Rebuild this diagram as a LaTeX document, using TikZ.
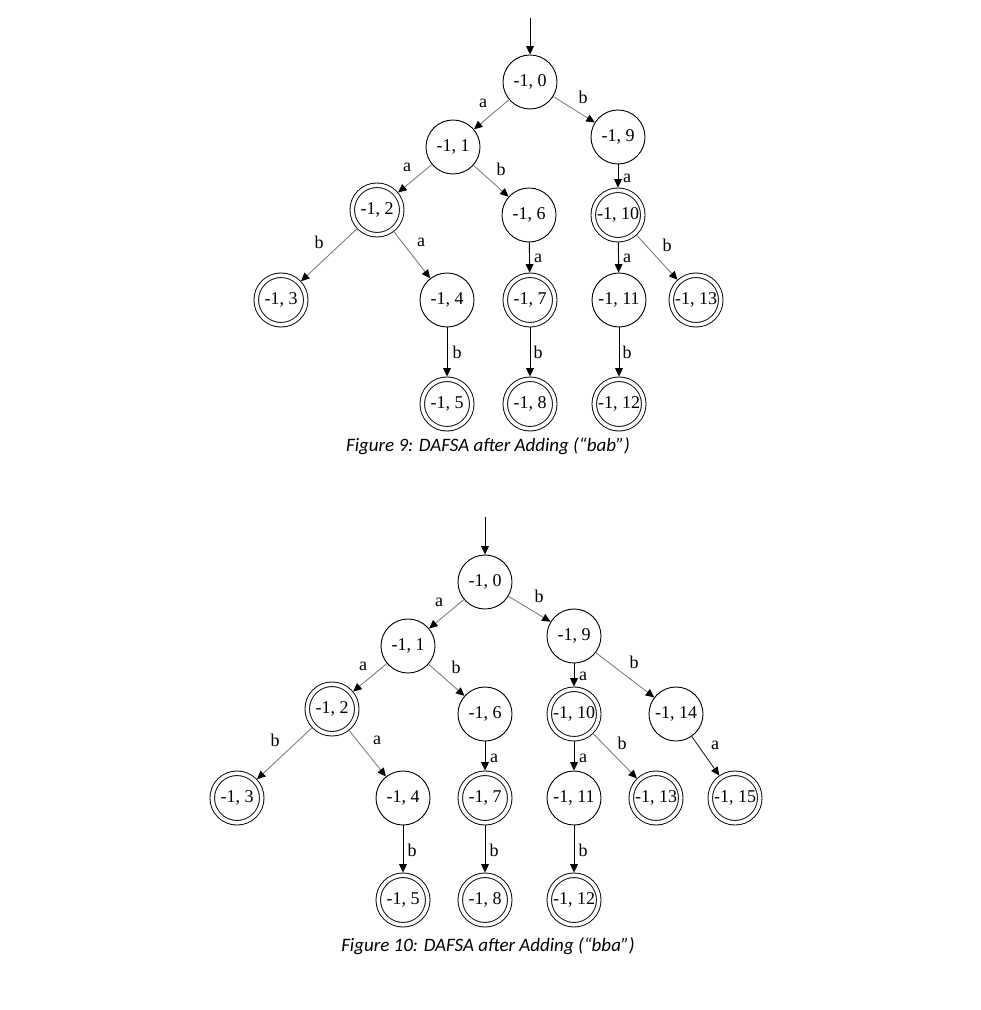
\documentclass[tikz,border=0pt]{standalone}
\usepackage{fontspec}
\setmainfont{Liberation Serif}
\newfontfamily\capfont{Carlito}
\usetikzlibrary{arrows.meta}
\tikzset{
  st/.style={circle,draw,line width=0.65pt,inner sep=0pt,minimum size=1.35cm},
  acc/.style={circle,draw,line width=0.65pt,inner sep=0pt,minimum size=1.2375cm,
    double,double distance=0.09cm,outer sep=0.067cm},
  tr/.style={draw=black!50,line width=0.65pt,-{Triangle[length=6pt,width=5.5pt,color=black]}},
  trv/.style={draw=black,line width=0.65pt,-{Triangle[length=6pt,width=5.5pt]}},
  lab/.style={inner sep=0pt}
}
\begin{document}
\begin{tikzpicture}[x=0.025cm,y=-0.025cm,font=\fontsize{12.8}{14}\selectfont]
\useasboundingbox (0,0) rectangle (980,1010);
% Figure 9
\coordinate (s9) at (530,18);
\node[st]  (a0)  at (530,82)  {-1, 0};
\node[st]  (a1)  at (453,147) {-1, 1};
\node[st]  (a9)  at (618,137) {-1, 9};
\node[acc] (a2)  at (377,210) {-1, 2};
\node[st]  (a6)  at (529,215) {-1, 6};
\node[acc] (a10) at (618,215) {-1, 10};
\node[acc] (a3)  at (281,300) {-1, 3};
\node[st]  (a4)  at (447,300) {-1, 4};
\node[acc] (a7)  at (530,300) {-1, 7};
\node[st]  (a11) at (619,300) {-1, 11};
\node[acc] (a13) at (696,300) {-1, 13};
\node[acc] (a5)  at (447,404) {-1, 5};
\node[acc] (a8)  at (530,404) {-1, 8};
\node[acc] (a12) at (619,404) {-1, 12};
\draw[trv] (s9) -- (a0);
\draw[tr] (a0) -- (a1);
\draw[tr] (a0) -- (a9);
\draw[tr] (a1) -- (a2);
\draw[tr] (a1) -- (a6);
\draw[trv] (a9) -- (a10);
\draw[tr] (a2) -- (a3);
\draw[tr] (a2) -- (a4);
\draw[trv] (a6) -- (a7);
\draw[trv] (a10) -- (a11);
\draw[tr] (a10) -- (a13);
\draw[trv] (a4) -- (a5);
\draw[trv] (a7) -- (a8);
\draw[trv] (a11) -- (a12);
\node[lab] (la1)  at (483,103) {a};
\node[lab] (la9)  at (583,97)  {b};
\node[lab] (la2)  at (407,167) {a};
\node[lab] (la6)  at (501,169) {b};
\node[lab] (la10) at (627,178) {a};
\node[lab] (la3)  at (319,242) {b};
\node[lab] (la4)  at (421,242) {a};
\node[lab] (la7)  at (538,258) {a};
\node[lab] (la11) at (627,258) {a};
\node[lab] (la13) at (667,245) {b};
\node[lab] (la5)  at (457,352) {b};
\node[lab] (la8)  at (538,352) {b};
\node[lab] (la12) at (627,352) {b};
\node (cap9) at (488,446) {\capfont\itshape\fontsize{13.5}{16}\selectfont Figure 9: DAFSA after Adding (“bab”)};
% Figure 10
\coordinate (s10) at (485,517);
\node[st]  (b0)  at (485,582) {-1, 0};
\node[st]  (b1)  at (408,646) {-1, 1};
\node[st]  (b9)  at (574,636) {-1, 9};
\node[acc] (b2)  at (332,709) {-1, 2};
\node[st]  (b6)  at (485,714) {-1, 6};
\node[acc] (b10) at (574,714) {-1, 10};
\node[st]  (b14) at (676,714) {-1, 14};
\node[acc] (b3)  at (237,798) {-1, 3};
\node[st]  (b4)  at (403,798) {-1, 4};
\node[acc] (b7)  at (485,798) {-1, 7};
\node[st]  (b11) at (574,798) {-1, 11};
\node[acc] (b13) at (656,798) {-1, 13};
\node[acc] (b15) at (735,798) {-1, 15};
\node[acc] (b5)  at (403,900) {-1, 5};
\node[acc] (b8)  at (485,900) {-1, 8};
\node[acc] (b12) at (574,900) {-1, 12};
\draw[trv] (s10) -- (b0);
\draw[tr] (b0) -- (b1);
\draw[tr] (b0) -- (b9);
\draw[tr] (b1) -- (b2);
\draw[tr] (b1) -- (b6);
\draw[trv] (b9) -- (b10);
\draw[tr] (b9) -- (b14);
\draw[tr] (b2) -- (b3);
\draw[tr] (b2) -- (b4);
\draw[trv] (b6) -- (b7);
\draw[trv] (b10) -- (b11);
\draw[tr] (b10) -- (b13);
\draw[tr,draw=black!85] (b14) -- (b15);
\draw[trv] (b4) -- (b5);
\draw[trv] (b7) -- (b8);
\draw[trv] (b11) -- (b12);
\node[lab] (lb1)  at (439,602) {a};
\node[lab] (lb9)  at (539,596) {b};
\node[lab] (lb2)  at (363,666) {a};
\node[lab] (lb6)  at (456,667) {b};
\node[lab] (lb10) at (583,676) {a};
\node[lab] (lb14) at (634,662) {b};
\node[lab] (lb3)  at (275,740) {b};
\node[lab] (lb4)  at (377,740) {a};
\node[lab] (lb7)  at (494,758) {a};
\node[lab] (lb11) at (583,758) {a};
\node[lab] (lb13) at (622,743) {b};
\node[lab] (lb15) at (715,745) {a};
\node[lab] (lb5)  at (412,850) {b};
\node[lab] (lb8)  at (494,850) {b};
\node[lab] (lb12) at (583,850) {b};
\node (cap10) at (488,946) {\capfont\itshape\fontsize{13.5}{16}\selectfont Figure 10: DAFSA after Adding (“bba”)};
\end{tikzpicture}
\end{document}
